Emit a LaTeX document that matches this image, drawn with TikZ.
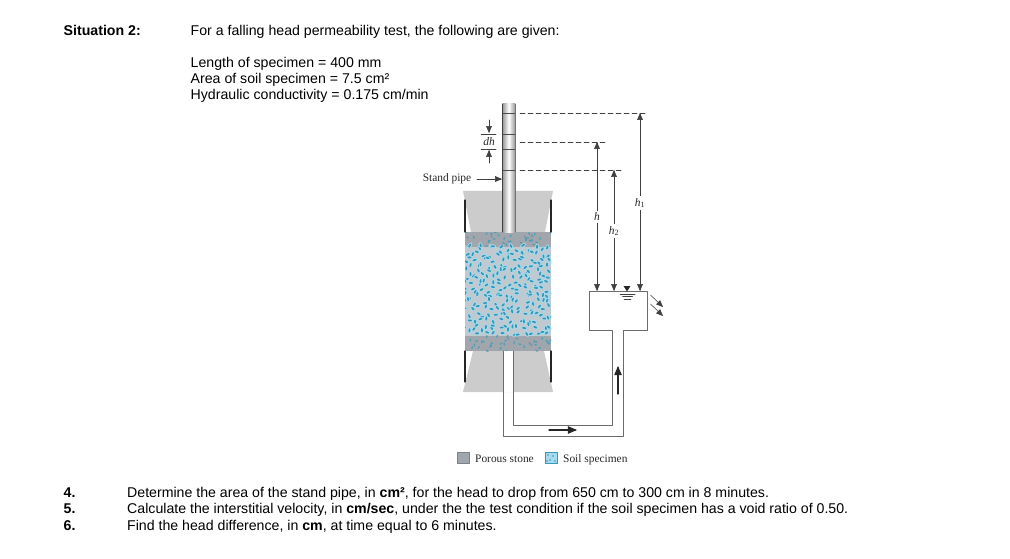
\documentclass[tikz,border=0pt]{standalone}
\usepackage{xcolor}
\usepackage{fontspec}
\setmainfont{Liberation Sans}
\newfontfamily\figfont{Liberation Serif}
\usetikzlibrary{arrows}
\definecolor{stonegray}{rgb}{0.63,0.65,0.68}
\definecolor{plugygray}{rgb}{0.80,0.80,0.80}
\definecolor{soilgray}{rgb}{0.75,0.79,0.81}
\definecolor{soilblue}{rgb}{0.66,0.86,0.93}
\definecolor{fleckblue}{rgb}{0.20,0.60,0.73}
\definecolor{tubegray}{rgb}{0.42,0.42,0.42}
\definecolor{dimgray}{rgb}{0.25,0.25,0.25}
\tikzstyle{every node}=[font=\fontsize{14.15}{16}\selectfont,inner sep=0pt]
\tikzstyle{bodytext}=[anchor=base west]
\tikzstyle{boldtext}=[anchor=base west,font=\bfseries\fontsize{14.15}{16}\selectfont]
\tikzstyle{figtext}=[font=\figfont\fontsize{11.4}{13}\selectfont,color=black!85]
\tikzstyle{mathtext}=[font=\figfont\itshape\fontsize{11.5}{13}\selectfont,color=black!85,fill=white,inner sep=2pt]
\tikzstyle{dimline}=[<->,line width=0.55pt,color=dimgray]
\tikzstyle{dashline}=[line width=0.5pt,color=dimgray,dash pattern=on 5pt off 3pt]
\tikzstyle{flowline}=[->,line width=1.1pt,color=black!85]
\tikzstyle{tubeline}=[line width=0.9pt,color=tubegray]
\begin{document}
\begin{tikzpicture}[line cap=round,line join=round,>=triangle 45,x=1pt,y=-1pt]
    \useasboundingbox (0,0) rectangle (1010,559);
    \node[boldtext] (situation) at (63.5,35.5) {Situation 2:};
    \node[bodytext] (intro) at (190.5,35.5) {For a falling head permeability test, the following are given:};
    \node[bodytext] (length) at (190.5,68) {Length of specimen = 400 mm};
    \node[bodytext] (area) at (190.5,84) {Area of soil specimen = 7.5 cm²};
    \node[bodytext] (conductivity) at (190.5,100) {Hydraulic conductivity = 0.175 cm/min};
    % plugs and specimen
    \fill [color=plugygray] (463,191) -- (553,191) -- (545,232) -- (471,232) -- cycle;
    \fill [color=plugygray] (473,351) -- (544,351) -- (553,392) -- (463,392) -- cycle;
    \fill [color=soilgray] (465,232) rectangle (551,351);
    \begin{scope}
        \clip (465,232) rectangle (551,351);
        \pgfmathsetseed{42}
        \fill [color=stonegray] (465,232) rectangle (551,247);
        \fill [color=stonegray] (465,336) rectangle (551,351);
        \foreach \gx in {465,471,...,555}{
            \foreach \gy in {248,254,...,336}{
                \pgfmathsetmacro{\px}{\gx+6*rnd-3}
                \pgfmathsetmacro{\py}{\gy+6*rnd-3}
                \pgfmathsetmacro{\pa}{180*rnd}
                \fill [color=soilblue,rotate around={\pa:(\px,\py)}] (\px,\py) ellipse (3.2 and 1.9);
                \fill [color=fleckblue,rotate around={\pa:(\px,\py)}] (\px,\py) ellipse (2.1 and 1);
            }
        }
        \foreach \i in {1,...,36}{
            \pgfmathsetmacro{\px}{465+86*rnd}
            \pgfmathsetmacro{\py}{232+15*rnd}
            \pgfmathsetmacro{\pa}{180*rnd}
            \fill [color=fleckblue!70!stonegray,rotate around={\pa:(\px,\py)}] (\px,\py) ellipse (1.8 and 0.9);
            \pgfmathsetmacro{\qx}{465+86*rnd}
            \pgfmathsetmacro{\qy}{336+15*rnd}
            \fill [color=fleckblue!70!stonegray,rotate around={\pa:(\qx,\qy)}] (\qx,\qy) ellipse (1.8 and 0.9);
        }
    \end{scope}
    \draw [line width=1.2pt,color=black!85] (465,200) -- (465,232);
    \draw [line width=1.2pt,color=black!85] (551,200) -- (551,232);
    \draw [line width=1.2pt,color=black!85] (465,351) -- (465,382);
    \draw [line width=1.2pt,color=black!85] (551,351) -- (551,382);
    % stand pipe
    \shade [left color=black!40,right color=black!40,middle color=white] (502.5,104) rectangle (515,232);
    \draw [line width=0.7pt,color=black!75] (502.5,104) -- (502.5,232);
    \draw [line width=0.7pt,color=black!55] (515,104) -- (515,232);
    \foreach \tickh in {113,134,149,170}{
        \draw [line width=0.5pt,color=black!70] (502.5,\tickh) -- (515,\tickh);
    }
    \coordinate (hone) at (640,113);
    \coordinate (honeb) at (640,291);
    \coordinate (htop) at (597,142);
    \coordinate (hbot) at (597,291);
    \coordinate (htwo) at (614,170);
    \coordinate (htwob) at (614,291);
    \draw [dashline] (520,113) -- (647,113);
    \draw [dashline] (520,142) -- (605,142);
    \draw [dashline] (520,170) -- (622,170);
    \draw [dimline] (htop) -- (hbot);
    \draw [dimline] (htwo) -- (htwob);
    \draw [dimline] (hone) -- (honeb);
    \node[mathtext] (hlabel) at (597,217) {h};
    \node[mathtext] (htwolabel) at (614,231) {h\textsubscript{\upshape 2}};
    \node[mathtext] (honelabel) at (640,203) {h\textsubscript{\upshape 1}};
    % dh
    \draw [line width=0.5pt,color=dimgray] (481,134) -- (496,134);
    \draw [line width=0.5pt,color=dimgray] (481,149) -- (496,149);
    \node[mathtext,fill=none] (dhlabel) at (489,142) {dh};
    \coordinate (dhtop) at (489,120);
    \coordinate (dhtopend) at (489,133);
    \coordinate (dhbot) at (489,163);
    \coordinate (dhbotend) at (489,150);
    \draw [->,line width=0.55pt,color=dimgray] (dhtop) -- (dhtopend);
    \draw [->,line width=0.55pt,color=dimgray] (dhbot) -- (dhbotend);
    \node[figtext] (standpipe) at (447,178.5) {Stand pipe};
    \coordinate (pipeside) at (502,179);
    \coordinate (pipefrom) at (477,179);
    \draw [->,line width=0.55pt,color=dimgray] (pipefrom) -- (pipeside);
    % tube and tank
    \fill [color=white] (503,351) rectangle (513.5,392);
    \draw [tubeline] (503,351) -- (503,436) -- (623,436) -- (623,330) -- (647,330) -- (647,291) -- (589,291) -- (589,330) -- (612.5,330) -- (612.5,425) -- (513.5,425) -- (513.5,351);
    \coordinate (flowa) at (549,430);
    \coordinate (flowb) at (577,430);
    \coordinate (flowc) at (618,394);
    \coordinate (flowd) at (618,366);
    \draw [flowline] (flowa) -- (flowb);
    \draw [flowline] (flowc) -- (flowd);
    % water level
    \fill [color=black!85] (623.5,286) -- (630.5,286) -- (627,291.5) -- cycle;
    \draw [line width=0.5pt,color=dimgray] (620,294) -- (635,294);
    \draw [line width=0.5pt,color=dimgray] (622.5,296.5) -- (632.5,296.5);
    \draw [line width=0.5pt,color=dimgray] (624,299) -- (631,299);
    \coordinate (outa) at (650.5,295);
    \coordinate (outb) at (663,307);
    \coordinate (outc) at (650.5,304);
    \coordinate (outd) at (663,316);
    \draw [->,line width=0.55pt,color=dimgray] (outa) -- (outb);
    \draw [->,line width=0.55pt,color=dimgray] (outc) -- (outd);
    % legend
    \fill [color=stonegray] (457,452) rectangle (469,463);
    \draw [line width=0.4pt,color=black!50] (457,452) rectangle (469,463);
    \foreach \sx/\sy in {459/454,464/456,461/460,466/461,467/453}{
        \fill [color=fleckblue!70] (\sx,\sy) circle (0.7);
    }
    \node[figtext,anchor=base west] (porous) at (475,462) {Porous stone};
    \fill [color=soilblue] (545,452) rectangle (557,463);
    \draw [line width=0.4pt,color=fleckblue] (545,452) rectangle (557,463);
    \foreach \sx/\sy in {548/455,553/456,550/460,555/461,547/461}{
        \fill [color=fleckblue] (\sx,\sy) circle (0.8);
    }
    \node[figtext,anchor=base west] (soil) at (563,462) {Soil specimen};
    % questions
    \node[boldtext] (numfour) at (63.5,497) {4.};
    \node[boldtext] (numfive) at (63.5,513) {5.};
    \node[boldtext] (numsix) at (63.5,530) {6.};
    \node[bodytext] (qfour) at (127,497) {Determine the area of the stand pipe, in \textbf{cm²}, for the head to drop from 650 cm to 300 cm in 8 minutes.};
    \node[bodytext] (qfive) at (127,513) {Calculate the interstitial velocity, in \textbf{cm/sec}, under the the test condition if the soil specimen has a void ratio of 0.50.};
    \node[bodytext] (qsix) at (127,530) {Find the head difference, in \textbf{cm}, at time equal to 6 minutes.};
\end{tikzpicture}
\end{document}
